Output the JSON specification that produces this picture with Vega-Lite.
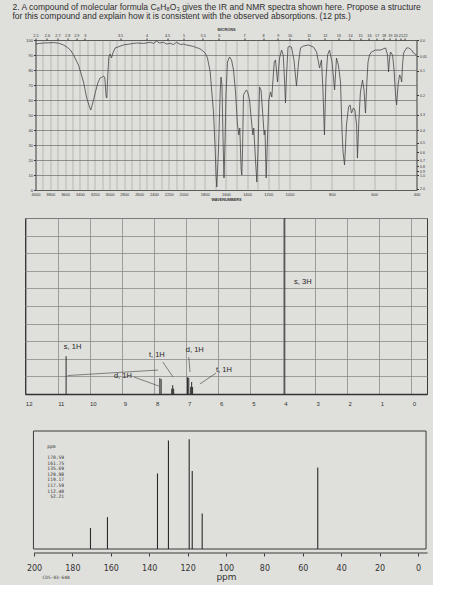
{
  "$schema": "https://vega.github.io/schema/vega-lite/v6.json",
  "background": "#dfdfdc",
  "padding": {"left": 12, "top": 3, "right": 4, "bottom": 4},
  "title": {
    "text": [
      "2. A compound of molecular formula C\u2088H\u2088O\u2083 gives the IR and NMR spectra shown here. Propose a structure",
      "\u00a0\u00a0\u00a0\u00a0for this compound and explain how it is consistent with the observed absorptions.  (12 pts.)"
    ],
    "anchor": "start",
    "frame": "bounds",
    "dx": -12,
    "font": "Liberation Sans",
    "fontSize": 8.5,
    "fontWeight": "normal",
    "color": "#2f2f2f",
    "lineHeight": 9,
    "offset": 6
  },
  "config": {
    "font": "Liberation Sans",
    "view": {"stroke": "#3a3a3a", "strokeWidth": 1},
    "axis": {"labelColor": "#333333", "titleColor": "#333333", "tickColor": "#3a3a3a", "domainColor": "#3a3a3a", "labelOverlap": false}
  },
  "datasets": {
    "ir": [
      {"wn": 4000, "T": 97.3}, {"wn": 3946, "T": 97.7}, {"wn": 3892, "T": 98.0}, {"wn": 3824, "T": 98.1},
      {"wn": 3757, "T": 98.3}, {"wn": 3689, "T": 97.9}, {"wn": 3622, "T": 96.7}, {"wn": 3568, "T": 95.0},
      {"wn": 3527, "T": 93.3}, {"wn": 3486, "T": 90.0}, {"wn": 3419, "T": 83.3}, {"wn": 3351, "T": 72.0},
      {"wn": 3311, "T": 62.0}, {"wn": 3270, "T": 55.3}, {"wn": 3253, "T": 53.3}, {"wn": 3226, "T": 58.0},
      {"wn": 3193, "T": 64.7}, {"wn": 3158, "T": 71.3}, {"wn": 3126, "T": 74.7}, {"wn": 3099, "T": 75.3},
      {"wn": 3081, "T": 76.0}, {"wn": 3063, "T": 74.7}, {"wn": 3045, "T": 62.0}, {"wn": 3036, "T": 61.3},
      {"wn": 3023, "T": 76.7}, {"wn": 3009, "T": 88.7}, {"wn": 2991, "T": 90.7}, {"wn": 2973, "T": 88.0},
      {"wn": 2955, "T": 91.3}, {"wn": 2923, "T": 94.7}, {"wn": 2878, "T": 95.5}, {"wn": 2811, "T": 96.7},
      {"wn": 2730, "T": 97.3}, {"wn": 2635, "T": 98.0}, {"wn": 2540, "T": 97.7}, {"wn": 2450, "T": 98.5},
      {"wn": 2405, "T": 97.7}, {"wn": 2365, "T": 99.3}, {"wn": 2324, "T": 98.0}, {"wn": 2270, "T": 98.5},
      {"wn": 2230, "T": 97.3}, {"wn": 2180, "T": 97.8}, {"wn": 2135, "T": 97.0}, {"wn": 2095, "T": 98.5},
      {"wn": 2041, "T": 97.0}, {"wn": 2000, "T": 97.3},
      {"wn": 1972, "T": 96.7}, {"wn": 1937, "T": 96.2}, {"wn": 1906, "T": 95.7}, {"wn": 1877, "T": 94.9},
      {"wn": 1849, "T": 94.3}, {"wn": 1827, "T": 93.3}, {"wn": 1795, "T": 91.3}, {"wn": 1774, "T": 88.0},
      {"wn": 1748, "T": 78.7}, {"wn": 1733, "T": 65.3}, {"wn": 1717, "T": 52.0}, {"wn": 1701, "T": 26.7},
      {"wn": 1693, "T": 10.0}, {"wn": 1686, "T": 2.0}, {"wn": 1670, "T": 26.7}, {"wn": 1654, "T": 65.3},
      {"wn": 1646, "T": 75.3}, {"wn": 1637, "T": 70.0}, {"wn": 1627, "T": 33.3}, {"wn": 1618, "T": 8.0},
      {"wn": 1608, "T": 33.3}, {"wn": 1599, "T": 63.3}, {"wn": 1585, "T": 85.3}, {"wn": 1566, "T": 88.7},
      {"wn": 1547, "T": 86.7}, {"wn": 1528, "T": 80.0}, {"wn": 1509, "T": 65.3}, {"wn": 1491, "T": 43.3},
      {"wn": 1478, "T": 36.7}, {"wn": 1469, "T": 41.3}, {"wn": 1456, "T": 13.3}, {"wn": 1450, "T": 10.0},
      {"wn": 1443, "T": 26.7}, {"wn": 1434, "T": 63.3}, {"wn": 1420, "T": 65.3}, {"wn": 1406, "T": 66.7},
      {"wn": 1392, "T": 64.7}, {"wn": 1377, "T": 60.0}, {"wn": 1358, "T": 45.3}, {"wn": 1346, "T": 36.7},
      {"wn": 1337, "T": 41.3}, {"wn": 1321, "T": 20.0}, {"wn": 1308, "T": 5.3}, {"wn": 1297, "T": 26.7},
      {"wn": 1283, "T": 68.7}, {"wn": 1269, "T": 66.7}, {"wn": 1255, "T": 53.3}, {"wn": 1239, "T": 36.7},
      {"wn": 1231, "T": 40.0}, {"wn": 1220, "T": 8.0}, {"wn": 1208, "T": 33.3}, {"wn": 1195, "T": 60.0},
      {"wn": 1179, "T": 65.3}, {"wn": 1167, "T": 62.0}, {"wn": 1156, "T": 73.3}, {"wn": 1144, "T": 85.3},
      {"wn": 1132, "T": 86.7}, {"wn": 1113, "T": 72.0}, {"wn": 1094, "T": 88.0}, {"wn": 1075, "T": 93.3},
      {"wn": 1059, "T": 90.0}, {"wn": 1047, "T": 73.3}, {"wn": 1038, "T": 58.0}, {"wn": 1028, "T": 76.7},
      {"wn": 1014, "T": 95.3}, {"wn": 1000, "T": 95.7},
      {"wn": 991, "T": 95.3}, {"wn": 979, "T": 86.7}, {"wn": 967, "T": 69.3}, {"wn": 957, "T": 85.3},
      {"wn": 948, "T": 94.7}, {"wn": 934, "T": 96.0}, {"wn": 910, "T": 96.7}, {"wn": 887, "T": 95.3},
      {"wn": 872, "T": 92.0}, {"wn": 858, "T": 81.3}, {"wn": 849, "T": 86.7}, {"wn": 842, "T": 66.7},
      {"wn": 835, "T": 36.7}, {"wn": 828, "T": 73.3}, {"wn": 820, "T": 90.0}, {"wn": 811, "T": 93.3},
      {"wn": 799, "T": 85.3}, {"wn": 787, "T": 66.7}, {"wn": 778, "T": 88.0}, {"wn": 769, "T": 83.3},
      {"wn": 759, "T": 72.0}, {"wn": 752, "T": 40.0}, {"wn": 747, "T": 25.3}, {"wn": 740, "T": 16.7},
      {"wn": 735, "T": 30.0}, {"wn": 731, "T": 43.3}, {"wn": 721, "T": 55.3}, {"wn": 714, "T": 56.7},
      {"wn": 707, "T": 51.3}, {"wn": 698, "T": 54.7}, {"wn": 691, "T": 53.3}, {"wn": 683, "T": 43.3},
      {"wn": 679, "T": 21.3}, {"wn": 672, "T": 46.7}, {"wn": 665, "T": 65.3}, {"wn": 655, "T": 73.3},
      {"wn": 648, "T": 66.7}, {"wn": 641, "T": 51.3}, {"wn": 634, "T": 73.3}, {"wn": 629, "T": 85.3},
      {"wn": 622, "T": 90.0}, {"wn": 613, "T": 92.0}, {"wn": 594, "T": 93.3}, {"wn": 570, "T": 93.3},
      {"wn": 546, "T": 94.7}, {"wn": 537, "T": 90.0}, {"wn": 532, "T": 78.7}, {"wn": 528, "T": 86.7},
      {"wn": 523, "T": 92.0}, {"wn": 513, "T": 90.0}, {"wn": 506, "T": 80.0}, {"wn": 499, "T": 63.3},
      {"wn": 494, "T": 56.7}, {"wn": 487, "T": 70.0}, {"wn": 480, "T": 76.7}, {"wn": 475, "T": 75.3},
      {"wn": 470, "T": 72.0}, {"wn": 466, "T": 83.3}, {"wn": 461, "T": 91.3}, {"wn": 447, "T": 94.7},
      {"wn": 437, "T": 94.7}, {"wn": 423, "T": 93.3}, {"wn": 414, "T": 91.3}, {"wn": 400, "T": 90.0}
    ],
    "h1": [
      {"ppm": 10.74, "h": 2.15},
      {"ppm": 7.82, "h": 0.9}, {"ppm": 7.78, "h": 0.85},
      {"ppm": 7.45, "h": 0.3}, {"ppm": 7.42, "h": 0.5}, {"ppm": 7.39, "h": 0.3},
      {"ppm": 6.96, "h": 0.95}, {"ppm": 6.92, "h": 0.92},
      {"ppm": 6.86, "h": 0.4}, {"ppm": 6.83, "h": 0.68}, {"ppm": 6.80, "h": 0.4},
      {"ppm": 3.93, "h": 10}
    ],
    "h1labels": [
      {"ppm": 10.81, "y": 2.67, "text": "s, 1H"},
      {"ppm": 9.25, "y": 1.05, "text": "d, 1H"},
      {"ppm": 8.16, "y": 2.22, "text": "t, 1H"},
      {"ppm": 7.01, "y": 2.5, "text": "d, 1H"},
      {"ppm": 6.07, "y": 1.36, "text": "t, 1H"},
      {"ppm": 3.64, "y": 6.36, "text": "s, 3H"}
    ],
    "h1arrows": [
      {"x1": 8.63, "y1": 0.97, "x2": 7.85, "y2": 0.45},
      {"x1": 7.73, "y1": 1.82, "x2": 7.41, "y2": 0.97},
      {"x1": 6.92, "y1": 2.1, "x2": 6.88, "y2": 1.25},
      {"x1": 6.07, "y1": 1.19, "x2": 6.57, "y2": 0.57},
      {"x1": 10.69, "y1": 1.05, "x2": 7.88, "y2": 1.36}
    ],
    "c13": [
      {"ppm": 170.59, "h": 17.8},
      {"ppm": 161.75, "h": 27},
      {"ppm": 135.69, "h": 64},
      {"ppm": 129.98, "h": 92},
      {"ppm": 119.17, "h": 93},
      {"ppm": 117.59, "h": 66},
      {"ppm": 112.40, "h": 30},
      {"ppm": 52.21, "h": 69}
    ]
  },
  "bounds": "flush",
  "center": true,
  "spacing": 28,
  "vconcat": [
    {
      "width": 381,
      "height": 150,
      "data": {"name": "ir"},
      "layer": [
        {
          "mark": {"type": "line", "color": "#454545", "strokeWidth": 0.8},
          "encoding": {
            "x": {
              "field": "wn", "type": "quantitative",
              "scale": {"domain": [4000, 2000, 1000, 400], "range": [0, 148, 254, 381], "nice": false, "zero": false},
              "axis": {
                "orient": "bottom",
                "values": [4000, 3900, 3800, 3700, 3600, 3500, 3400, 3300, 3200, 3100, 3000, 2900, 2800, 2700, 2600, 2500, 2400, 2300, 2200, 2100, 2000, 1900, 1800, 1700, 1600, 1500, 1400, 1300, 1200, 1100, 1000, 900, 800, 700, 600, 500, 400],
                "format": "d",
                "labelExpr": "datum.value % 200 == 0 ? datum.label : ''",
                "labelFontSize": 4, "labelPadding": 2, "labelOverlap": false, "labelFlush": false,
                "ticks": false, "domain": false,
                "grid": true, "gridColor": "#8e8e8e", "gridWidth": 0.5,
                "title": "WAVENUMBERS", "titleFontSize": 3.8, "titleFontWeight": "bold", "titlePadding": 1
              }
            },
            "y": {
              "field": "T", "type": "quantitative",
              "scale": {"domain": [0, 100], "nice": false, "zero": false},
              "axis": {
                "values": [0, 10, 20, 30, 40, 50, 60, 70, 80, 90, 100],
                "labelFontSize": 4, "labelPadding": 1, "tickSize": 2,
                "domain": false, "grid": true, "gridColor": "#6c6c6c", "gridWidth": 0.7,
                "title": null
              }
            }
          }
        },
        {
          "mark": {"type": "line", "strokeOpacity": 0},
          "encoding": {
            "x": {
              "field": "wn", "type": "quantitative",
              "axis": {
                "orient": "top",
                "values": [4000, 3846.15, 3703.7, 3571.43, 3448.28, 3333.33, 2857.14, 2500, 2222.22, 2000, 1818.18, 1666.67, 1428.57, 1250, 1111.11, 1000, 909.09, 833.33, 769.23, 714.29, 666.67, 625, 588.24, 555.56, 526.32, 500, 476.19, 454.55],
                "labelExpr": "format(10000 / datum.value, '.1~f')",
                "labelFontSize": 3.8, "labelPadding": 1, "labelOverlap": false, "labelFlush": false,
                "tickSize": 2, "domain": false, "grid": false,
                "title": "MICRONS", "titleFontSize": 3.8, "titleFontWeight": "bold", "titlePadding": 2
              }
            },
            "y": {
              "field": "T", "type": "quantitative",
              "axis": {
                "orient": "right",
                "values": [100, 89.13, 79.43, 63.1, 50.12, 39.81, 31.62, 25.12, 19.95, 15.85, 12.59, 10, 1],
                "labelExpr": "format(abs(log(datum.value / 100)) / LN10, (datum.value > 85 && datum.value < 95) ? '.2f' : '.1f')",
                "labelFontSize": 3.5, "labelPadding": 1, "labelOverlap": false,
                "tickSize": 2, "domain": false, "grid": false, "title": null
              }
            }
          }
        }
      ],
      "resolve": {"axis": {"x": "independent", "y": "independent"}}
    },
    {
      "width": 402,
      "height": 176,
      "layer": [
        {
          "data": {"name": "h1"},
          "mark": {"type": "rule", "color": "#2a2a2a", "strokeWidth": 1},
          "encoding": {
            "x": {
              "field": "ppm", "type": "quantitative",
              "scale": {"domain": [-0.5, 12.02], "reverse": true, "nice": false, "zero": false},
              "axis": {
                "values": [0, 1, 2, 3, 4, 5, 6, 7, 8, 9, 10, 11, 12],
                "format": "d", "labelFontSize": 6, "labelOffset": 3, "labelPadding": 6,
                "labelOverlap": false, "labelFlush": false,
                "ticks": false, "domain": true, "domainWidth": 1.5, "domainColor": "#333333",
                "grid": true, "gridColor": "#8a8a8a", "gridWidth": 0.8, "title": null
              }
            },
            "y": {
              "field": "h", "type": "quantitative",
              "scale": {"domain": [0, 10], "nice": false, "zero": false},
              "axis": {
                "values": [0, 1, 2, 3, 4, 5, 6, 7, 8, 9, 10],
                "labels": false, "ticks": false, "domain": false,
                "grid": true, "gridColor": "#8a8a8a", "gridWidth": 0.8, "title": null
              }
            },
            "y2": {"datum": 0}
          }
        },
        {
          "data": {"name": "h1arrows"},
          "mark": {"type": "rule", "color": "#3a3a3a", "strokeWidth": 0.6},
          "encoding": {
            "x": {
              "field": "x1", "type": "quantitative",
              "axis": {
                "values": [0, 1, 2, 3, 4, 5, 6, 7, 8, 9, 10, 11, 12],
                "format": "d", "labelFontSize": 6, "labelOffset": 3, "labelPadding": 6,
                "labelOverlap": false, "labelFlush": false,
                "ticks": false, "domain": true, "domainWidth": 1.5, "domainColor": "#333333",
                "grid": true, "gridColor": "#8a8a8a", "gridWidth": 0.8, "title": null
              }
            },
            "x2": {"field": "x2"},
            "y": {
              "field": "y1", "type": "quantitative",
              "axis": {
                "values": [0, 1, 2, 3, 4, 5, 6, 7, 8, 9, 10],
                "labels": false, "ticks": false, "domain": false,
                "grid": true, "gridColor": "#8a8a8a", "gridWidth": 0.8, "title": null
              }
            },
            "y2": {"field": "y2"}
          }
        },
        {
          "data": {"name": "h1labels"},
          "mark": {"type": "text", "align": "left", "baseline": "middle", "fontSize": 7.5, "color": "#262626"},
          "encoding": {
            "x": {
              "field": "ppm", "type": "quantitative",
              "axis": {
                "values": [0, 1, 2, 3, 4, 5, 6, 7, 8, 9, 10, 11, 12],
                "format": "d", "labelFontSize": 6, "labelOffset": 3, "labelPadding": 6,
                "labelOverlap": false, "labelFlush": false,
                "ticks": false, "domain": true, "domainWidth": 1.5, "domainColor": "#333333",
                "grid": true, "gridColor": "#8a8a8a", "gridWidth": 0.8, "title": null
              }
            },
            "y": {
              "field": "y", "type": "quantitative",
              "axis": {
                "values": [0, 1, 2, 3, 4, 5, 6, 7, 8, 9, 10],
                "labels": false, "ticks": false, "domain": false,
                "grid": true, "gridColor": "#8a8a8a", "gridWidth": 0.8, "title": null
              }
            },
            "text": {"field": "text"}
          }
        }
      ]
    },
    {
      "width": 402,
      "height": 127,
      "view": {"stroke": null},
      "layer": [
        {
          "data": {"values": [{"side": "frame"}]},
          "mark": {"type": "rect", "filled": false, "stroke": "#3a3a3a", "strokeWidth": 1},
          "encoding": {
            "x": {"datum": 200.3, "type": "quantitative",
              "scale": {"domain": [-4.7, 204.7], "reverse": true, "nice": false, "zero": false},
              "axis": {
                "values": [0, 20, 40, 60, 80, 100, 120, 140, 160, 180, 200],
                "format": "d", "offset": 4, "tickSize": 3, "domain": false,
                "labelFont": "DejaVu Sans", "labelFontSize": 8, "labelPadding": 8, "labelOverlap": false,
                "grid": false,
                "title": "ppm", "titleFont": "DejaVu Sans", "titleFontSize": 9, "titleFontWeight": "normal", "titlePadding": 0
              }
            },
            "x2": {"datum": -4.2},
            "y": {"datum": 0, "type": "quantitative", "scale": {"domain": [0, 107.63], "nice": false, "zero": false}, "axis": null},
            "y2": {"datum": 100}
          }
        },
        {
          "data": {"values": [{"side": "axis"}]},
          "mark": {"type": "rule", "color": "#3a3a3a", "strokeWidth": 1},
          "encoding": {
            "x": {"datum": 200},
            "x2": {"datum": -5},
            "y": {"datum": -3.4, "type": "quantitative", "scale": {"domain": [0, 107.63], "nice": false, "zero": false}, "axis": null}
          }
        },
        {
          "data": {"name": "c13"},
          "mark": {"type": "rule", "color": "#2a2a2a", "strokeWidth": 1.1},
          "encoding": {
            "x": {"field": "ppm", "type": "quantitative"},
            "y": {"field": "h", "type": "quantitative", "scale": {"domain": [0, 107.63], "nice": false, "zero": false}, "axis": null},
            "y2": {"datum": 0}
          }
        },
        {
          "data": {"name": "c13"},
          "transform": [
            {"window": [{"op": "row_number", "as": "rank"}], "sort": [{"field": "ppm", "order": "descending"}]}
          ],
          "mark": {"type": "text", "align": "right", "baseline": "middle", "font": "DejaVu Sans Mono", "fontSize": 4.6, "color": "#333333"},
          "encoding": {
            "x": {"datum": 184.4},
            "y": {"field": "rank", "type": "quantitative", "scale": {"domain": [-5.43, 17.25], "reverse": true, "nice": false, "zero": false}, "axis": null},
            "text": {"field": "ppm", "type": "quantitative", "format": ".2f"}
          }
        },
        {
          "data": {"values": [{"label": "ppm"}]},
          "mark": {"type": "text", "align": "center", "baseline": "middle", "font": "DejaVu Sans Mono", "fontSize": 4.6, "color": "#333333"},
          "encoding": {
            "x": {"datum": 191},
            "y": {"datum": 86.4, "scale": {"domain": [0, 107.63], "nice": false, "zero": false}, "axis": null},
            "text": {"field": "label"}
          }
        },
        {
          "data": {"values": [{"label": "CDS-03-648"}]},
          "mark": {"type": "text", "align": "center", "baseline": "middle", "font": "DejaVu Sans Mono", "fontSize": 4.5, "color": "#3a3a3a"},
          "encoding": {
            "x": {"datum": 188.5},
            "y": {"datum": -24.6, "scale": {"domain": [0, 107.63], "nice": false, "zero": false}, "axis": null},
            "text": {"field": "label"}
          }
        }
      ],
      "resolve": {"scale": {"y": "independent"}}
    }
  ]
}
